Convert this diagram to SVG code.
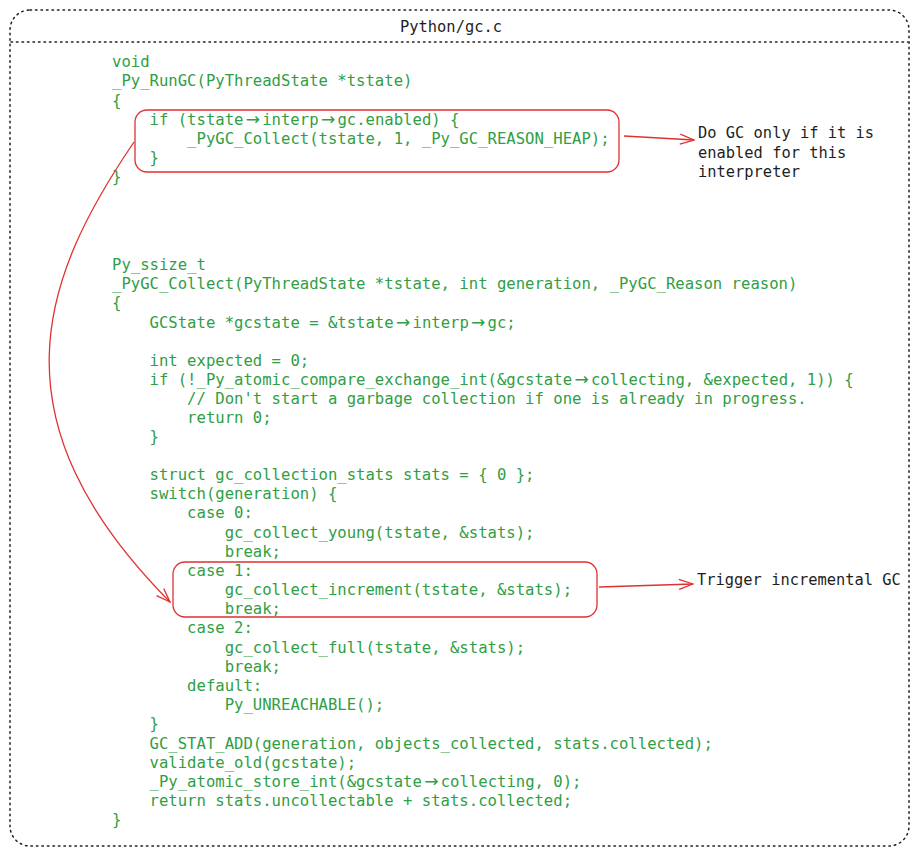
<svg xmlns="http://www.w3.org/2000/svg" width="919" height="859" viewBox="0 0 919 859">
<style>
.c{font-family:"DejaVu Sans Mono","Liberation Mono",monospace;font-size:15.6px;fill:#2f9e44;white-space:pre}
.a{font-family:"DejaVu Sans","Liberation Sans",sans-serif;font-size:17px;fill:#2f9e44;text-anchor:middle}
.n{font-family:"DejaVu Sans Mono","Liberation Mono",monospace;font-size:15.4px;fill:#1e1e1e;white-space:pre}
.frame{fill:none;stroke:#1e1e1e;stroke-width:1.5;stroke-dasharray:1.5 4;stroke-linecap:round}
.r{fill:none;stroke:#e03131;stroke-width:1.3}
</style>
<defs>
<marker id="ah" markerWidth="16" markerHeight="12" refX="15" refY="6" orient="auto" markerUnits="userSpaceOnUse">
<path d="M1,1 L15,6 L1,11" fill="none" stroke="#e03131" stroke-width="1.3"/>
</marker>
</defs>
<g id="frame">
<rect class="frame" x="10" y="10" width="899" height="836" rx="20"/>
<line class="frame" x1="11" y1="42" x2="908" y2="42"/>
<text class="n" x="451" y="32" text-anchor="middle">Python/gc.c</text>
</g>
<g id="code" xml:space="preserve">
<text class="c" x="112" y="67">void</text>
<text class="c" x="112" y="86">_Py_RunGC(PyThreadState *tstate)</text>
<text class="c" x="112" y="106">{</text>
<text class="c" x="112" y="125">    if (tstate</text><text class="a" x="252.9" y="125">→</text><text class="c" x="262.2" y="125">interp</text><text class="a" x="328" y="125">→</text><text class="c" x="337.4" y="125">gc.enabled) {</text>
<text class="c" x="112" y="144">        _PyGC_Collect(tstate, 1, _Py_GC_REASON_HEAP);</text>
<text class="c" x="112" y="163">    }</text>
<text class="c" x="112" y="182">}</text>
<text class="c" x="112" y="270">Py_ssize_t</text>
<text class="c" x="112" y="289">_PyGC_Collect(PyThreadState *tstate, int generation, _PyGC_Reason reason)</text>
<text class="c" x="112" y="308">{</text>
<text class="c" x="112" y="328">    GCState *gcstate = &amp;tstate</text><text class="a" x="403.1" y="328">→</text><text class="c" x="412.5" y="328">interp</text><text class="a" x="478.2" y="328">→</text><text class="c" x="487.6" y="328">gc;</text>
<text class="c" x="112" y="366">    int expected = 0;</text>
<text class="c" x="112" y="385">    if (!_Py_atomic_compare_exchange_int(&amp;gcstate</text><text class="a" x="581.5" y="385">→</text><text class="c" x="590.9" y="385">collecting, &amp;expected, 1)) {</text>
<text class="c" x="112" y="404">        // Don't start a garbage collection if one is already in progress.</text>
<text class="c" x="112" y="423">        return 0;</text>
<text class="c" x="112" y="442">    }</text>
<text class="c" x="112" y="480">    struct gc_collection_stats stats = { 0 };</text>
<text class="c" x="112" y="499">    switch(generation) {</text>
<text class="c" x="112" y="518">        case 0:</text>
<text class="c" x="112" y="538">            gc_collect_young(tstate, &amp;stats);</text>
<text class="c" x="112" y="557">            break;</text>
<text class="c" x="112" y="576">        case 1:</text>
<text class="c" x="112" y="595">            gc_collect_increment(tstate, &amp;stats);</text>
<text class="c" x="112" y="614">            break;</text>
<text class="c" x="112" y="633">        case 2:</text>
<text class="c" x="112" y="653">            gc_collect_full(tstate, &amp;stats);</text>
<text class="c" x="112" y="672">            break;</text>
<text class="c" x="112" y="691">        default:</text>
<text class="c" x="112" y="710">            Py_UNREACHABLE();</text>
<text class="c" x="112" y="729">    }</text>
<text class="c" x="112" y="749">    GC_STAT_ADD(generation, objects_collected, stats.collected);</text>
<text class="c" x="112" y="768">    validate_old(gcstate);</text>
<text class="c" x="112" y="787">    _Py_atomic_store_int(&amp;gcstate</text><text class="a" x="431.3" y="787">→</text><text class="c" x="440.7" y="787">collecting, 0);</text>
<text class="c" x="112" y="806">    return stats.uncollectable + stats.collected;</text>
<text class="c" x="112" y="825">}</text>
</g>
<g id="box1">
<rect class="r" x="135" y="110" width="484" height="62" rx="12"/>
</g>
<g id="box2">
<rect class="r" x="173" y="562" width="424" height="55" rx="12"/>
</g>
<g id="note1">
<text class="n" x="698" y="138">Do GC only if it is</text>
<text class="n" x="698" y="158">enabled for this</text>
<text class="n" x="698" y="177">interpreter</text>
</g>
<g id="note2">
<text class="n" x="697" y="585">Trigger incremental GC</text>
</g>
<g id="connectors">
<path class="r" d="M624,136 L694,140" marker-end="url(#ah)"/>
<path class="r" d="M599,587 L693,584" marker-end="url(#ah)"/>
<path class="r" d="M134,142 C40,280 -10,420 170,602" marker-end="url(#ah)"/>
</g>
</svg>
